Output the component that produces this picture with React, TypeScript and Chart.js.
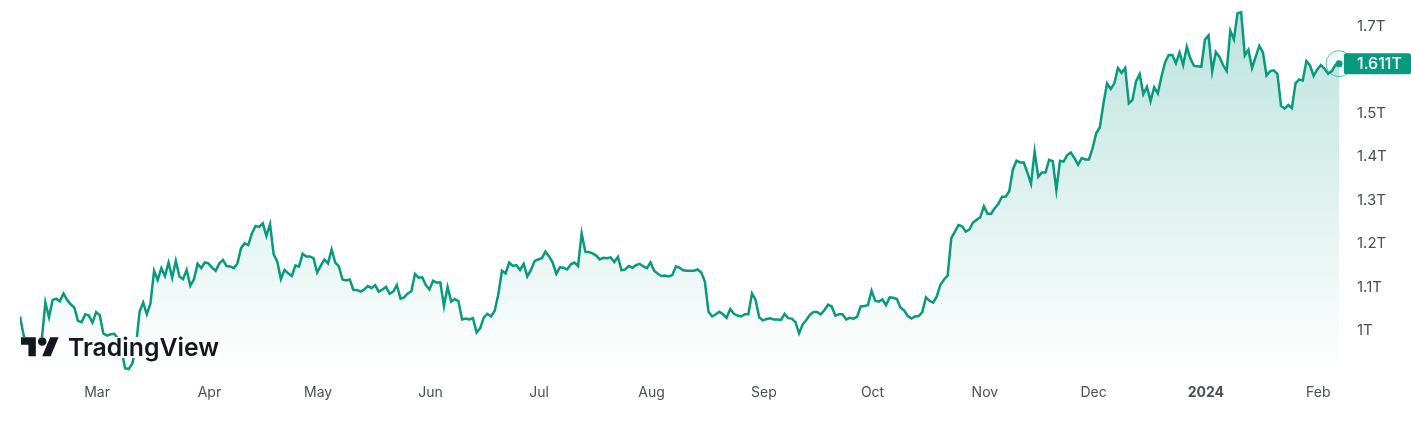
import { useEffect, useRef } from "react";
import { Chart, registerables, Plugin } from "chart.js";

Chart.register(...registerables);

// total market cap in trillions, one value per day from Feb 2023 to Feb 2024
const marketCap = [
  1.03, 0.987, 0.961, 0.942, 0.938, 0.945, 0.976, 1.062, 1.028, 1.068, 1.071, 1.065, 1.083, 1.068, 1.058, 1.05,
  1.02, 1.017, 1.035, 1.032, 1.016, 1.04, 1.033, 0.991, 0.986, 0.989, 0.99, 0.98, 0.953, 0.911, 0.909, 0.922,
  0.961, 1.041, 1.062, 1.035, 1.06, 1.135, 1.114, 1.141, 1.123, 1.154, 1.119, 1.158, 1.122, 1.116, 1.137, 1.101,
  1.115, 1.151, 1.141, 1.154, 1.152, 1.142, 1.135, 1.152, 1.16, 1.146, 1.145, 1.141, 1.152, 1.187, 1.198, 1.194,
  1.221, 1.238, 1.236, 1.244, 1.215, 1.242, 1.173, 1.156, 1.116, 1.137, 1.129, 1.123, 1.147, 1.145, 1.174, 1.168,
  1.168, 1.164, 1.131, 1.147, 1.161, 1.152, 1.184, 1.154, 1.145, 1.115, 1.113, 1.115,
  1.091, 1.091, 1.087, 1.092, 1.1, 1.095, 1.102, 1.087, 1.092, 1.098, 1.082, 1.087, 1.102, 1.071, 1.074, 1.083,
  1.088, 1.128, 1.119, 1.12, 1.102, 1.092, 1.112, 1.108, 1.108, 1.054, 1.098, 1.064, 1.07, 1.065, 1.023, 1.025,
  1.023, 1.026, 0.993, 1.003, 1.028, 1.036, 1.03, 1.043, 1.081, 1.135, 1.129, 1.154, 1.146, 1.148, 1.137, 1.151,
  1.122, 1.137, 1.157, 1.161, 1.164, 1.179, 1.168, 1.154, 1.128, 1.143, 1.142, 1.138, 1.15, 1.154, 1.146, 1.221,
  1.179, 1.178, 1.175, 1.17, 1.161, 1.165, 1.164, 1.166, 1.155, 1.167, 1.136, 1.138, 1.146, 1.142, 1.148, 1.151,
  1.145, 1.141, 1.154, 1.135, 1.128, 1.123, 1.124, 1.122, 1.125, 1.145, 1.142, 1.136, 1.135, 1.135, 1.135, 1.138, 1.131,
  1.11, 1.041, 1.03, 1.035, 1.041, 1.035, 1.027, 1.047, 1.036, 1.032, 1.03, 1.035, 1.035, 1.083, 1.068, 1.028,
  1.021, 1.024, 1.026, 1.023, 1.023, 1.022, 1.036, 1.026, 1.025, 1.017, 0.991, 1.012, 1.022, 1.034, 1.04, 1.04,
  1.035, 1.045, 1.057, 1.053, 1.032, 1.035, 1.035, 1.023, 1.027, 1.025, 1.029, 1.053, 1.054, 1.056, 1.089, 1.066,
  1.064, 1.069, 1.056, 1.074, 1.073, 1.07, 1.05, 1.044, 1.031, 1.025, 1.03, 1.031, 1.04, 1.074, 1.066, 1.062,
  1.076, 1.103, 1.115, 1.124, 1.21, 1.225, 1.24, 1.237, 1.225, 1.23, 1.246, 1.252, 1.258, 1.283, 1.266, 1.266,
  1.279, 1.289, 1.305, 1.305, 1.318, 1.368, 1.388, 1.384, 1.384, 1.361, 1.335, 1.409, 1.351, 1.361, 1.361, 1.39,
  1.387, 1.321, 1.388, 1.386, 1.401, 1.407, 1.394, 1.379, 1.394, 1.391, 1.391, 1.417, 1.451, 1.465, 1.52, 1.566,
  1.553, 1.566, 1.601, 1.59, 1.601, 1.52, 1.528, 1.571, 1.587, 1.541, 1.558, 1.525, 1.557, 1.543, 1.581, 1.614,
  1.631, 1.631, 1.612, 1.637, 1.608, 1.65, 1.623, 1.606, 1.605, 1.604, 1.666, 1.676, 1.593, 1.638, 1.627, 1.608,
  1.594, 1.687, 1.667, 1.727, 1.729, 1.63, 1.643, 1.601, 1.627, 1.652, 1.637, 1.584, 1.594, 1.596, 1.588, 1.514,
  1.508, 1.516, 1.509, 1.566, 1.575, 1.572, 1.617, 1.607, 1.583, 1.598, 1.608, 1.6, 1.588, 1.594, 1.608, 1.611,
];

const dayIndex = marketCap.map((_, i) => i);
const monthDays = [21, 52, 82, 113, 143, 174, 205, 235, 266, 296, 327, 358];
const monthLabels = ["Mar", "Apr", "May", "Jun", "Jul", "Aug", "Sep", "Oct", "Nov", "Dec", "2024", "Feb"];
const priceTicks = [1, 1.1, 1.2, 1.3, 1.4, 1.5, 1.7];

const GREEN = "#089981";
const TEXT = "#4a4e59";
const FONT = "Inter, Roboto, sans-serif";

const lastPricePlugin: Plugin<"line"> = {
  id: "lastPrice",
  afterDatasetsDraw(chart) {
    const { ctx, scales } = chart;
    const last = marketCap.length - 1;
    const x = scales.x.getPixelForValue(last);
    const y = scales.y.getPixelForValue(marketCap[last]);
    ctx.save();
    ctx.beginPath();
    ctx.arc(x, y, 13, 0, Math.PI * 2);
    ctx.fillStyle = "rgba(8,153,129,0.05)";
    ctx.fill();
    ctx.strokeStyle = "rgba(8,153,129,0.6)";
    ctx.lineWidth = 1;
    ctx.stroke();
    ctx.beginPath();
    ctx.arc(x, y, 3.5, 0, Math.PI * 2);
    ctx.fillStyle = GREEN;
    ctx.fill();
    ctx.fillStyle = GREEN;
    ctx.beginPath();
    ctx.roundRect(1344, y - 10.5, 67, 21, 2);
    ctx.fill();
    ctx.fillStyle = "#ffffff";
    ctx.font = `500 16px ${FONT}`;
    ctx.textAlign = "left";
    ctx.textBaseline = "middle";
    ctx.fillText("1.611T", 1357, y + 0.5);
    ctx.restore();
  },
};

const logoPlugin: Plugin<"line"> = {
  id: "logo",
  afterDraw(chart) {
    const { ctx } = chart;
    ctx.save();
    // the logo sits on a white plate that hides the line behind it
    ctx.fillStyle = "#ffffff";
    ctx.fillRect(20, 337, 199, 21);
    ctx.translate(21, 333);
    ctx.scale(1.06, 1.06);
    ctx.fillStyle = "#131722";
    ctx.fill(new Path2D("M14 22H7V11H0V4h14v18zM28 22h-8l7.5-18h8L28 22z"));
    ctx.beginPath();
    ctx.arc(20, 8, 4, 0, Math.PI * 2);
    ctx.fill();
    ctx.restore();
    ctx.save();
    ctx.fillStyle = "#131722";
    ctx.font = `600 24.8px ${FONT}`;
    ctx.textBaseline = "alphabetic";
    ctx.fillText("TradingView", 68, 356);
    ctx.restore();
  },
};

const App = () => {
  const canvasRef = useRef<HTMLCanvasElement | null>(null);

  useEffect(() => {
    if (!canvasRef.current) return;
    const chart = new Chart(canvasRef.current, {
      type: "line",
      data: {
        labels: dayIndex,
        datasets: [
          {
            data: dayIndex.map((d, i) => ({ x: d, y: marketCap[i] })),
            borderColor: GREEN,
            borderWidth: 2.5,
            pointRadius: 0,
            tension: 0,
            fill: "start",
            backgroundColor: (c: any) => {
              const area = c.chart.chartArea;
              if (!area) return "transparent";
              const g = c.chart.ctx.createLinearGradient(0, area.top, 0, area.bottom);
              g.addColorStop(0, "rgba(8,153,129,0.28)");
              g.addColorStop(1, "rgba(8,153,129,0)");
              return g;
            },
          },
        ],
      },
      options: {
        responsive: false,
        animation: false,
        layout: { autoPadding: false, padding: { left: 20, right: 0, top: 0, bottom: 0 } },
        plugins: { legend: { display: false }, tooltip: { enabled: false } },
        scales: {
          x: {
            type: "linear",
            min: 0,
            max: marketCap.length - 1,
            grid: { display: false, drawTicks: false },
            border: { display: false },
            afterBuildTicks: (axis) => {
              axis.ticks = monthDays.map((value) => ({ value }));
            },
            afterFit: (axis: any) => {
              axis.height = 48;
              axis.paddingLeft = 0;
              axis.paddingRight = 0;
            },
            ticks: {
              autoSkip: false,
              maxRotation: 0,
              padding: 11,
              labelOffset: 1,
              color: TEXT,
              font: (c: any) =>
                monthLabels[monthDays.indexOf(c.tick?.value)] === "2024"
                  ? { family: FONT, size: 14, weight: "bold" }
                  : { family: FONT, size: 14 },
              callback: (value) => monthLabels[monthDays.indexOf(Number(value))],
            },
          },
          y: {
            position: "right",
            min: 0.9,
            max: 1.7575,
            grid: { display: false, drawTicks: false },
            border: { display: false },
            afterBuildTicks: (axis) => {
              axis.ticks = priceTicks.map((value) => ({ value }));
            },
            afterFit: (axis: any) => {
              axis.width = 72;
              axis.paddingTop = 0;
              axis.paddingBottom = 0;
            },
            ticks: {
              autoSkip: false,
              padding: 18,
              labelOffset: 1,
              color: TEXT,
              crossAlign: "near",
              font: { family: FONT, size: 15 },
              callback: (value) => `${Number(value)}T`,
            },
          },
        },
      },
      plugins: [lastPricePlugin, logoPlugin],
    });
    return () => chart.destroy();
  }, []);

  return (
    <div style={{ position: "absolute", left: 0, top: 0, width: 1411, height: 421 }}>
      <canvas ref={canvasRef} width={1411} height={421} />
    </div>
  );
};

export default App;
